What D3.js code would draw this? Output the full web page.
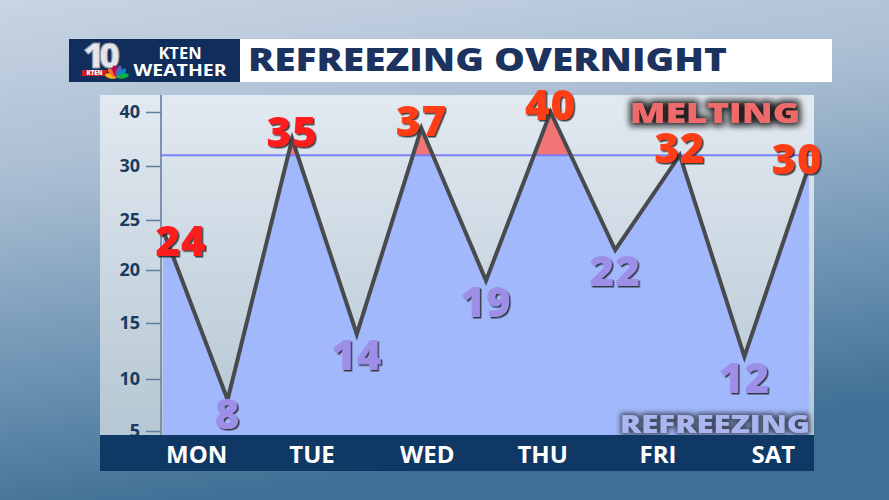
<!DOCTYPE html>
<html>
<head>
<meta charset="utf-8">
<script src="https://cdn.jsdelivr.net/npm/d3@7"></script>
<style>
  body { margin: 0; overflow: hidden; }
  svg { display: block; font-family: "Open Sans", "DejaVu Sans", sans-serif; }
</style>
</head>
<body>
<svg width="889" height="500"></svg>
<script>
var days = ["MON", "TUE", "WED", "THU", "FRI", "SAT"];
var temps = [24, 8, 35, 14, 37, 19, 40, 22, 32, 12, 30];
var readings = ["high", "low", "high", "low", "high", "low", "high", "low", "high", "low", "high"];
var yTicks = [5, 10, 15, 20, 25, 30, 40];
var freezing = 32;

var W = 889, H = 500;
var panel = {left: 100, right: 814, top: 95, bottom: 435};
var axisX = 161;

var svg = d3.select("svg");
var defs = svg.append("defs");

// background gradient
var bg = defs.append("linearGradient").attr("id", "bg")
    .attr("x1", 0).attr("y1", 0).attr("x2", 0.25).attr("y2", 1);
bg.append("stop").attr("offset", 0).attr("stop-color", "#c9d4e4");
bg.append("stop").attr("offset", 0.35).attr("stop-color", "#a9bdd2");
bg.append("stop").attr("offset", 0.7).attr("stop-color", "#6f95b4");
bg.append("stop").attr("offset", 1).attr("stop-color", "#3f6f95");

var panelGrad = defs.append("linearGradient").attr("id", "panelGrad")
    .attr("x1", 0).attr("y1", 0).attr("x2", 0).attr("y2", 1);
panelGrad.append("stop").attr("offset", 0).attr("stop-color", "#e2e9f1");
panelGrad.append("stop").attr("offset", 1).attr("stop-color", "#b5c7d3");

// text shadows and glows
var shadow = defs.append("filter").attr("id", "shadow")
    .attr("x", "-20%").attr("y", "-20%").attr("width", "140%").attr("height", "140%");
shadow.append("feDropShadow").attr("dx", 1.5).attr("dy", 1.5)
    .attr("stdDeviation", 0.6).attr("flood-color", "#222").attr("flood-opacity", 0.85);

function glowFilter(id, color, radius, blur) {
  var f = defs.append("filter").attr("id", id)
      .attr("x", "-10%").attr("y", "-50%").attr("width", "120%").attr("height", "200%");
  f.append("feMorphology").attr("in", "SourceAlpha").attr("operator", "dilate")
      .attr("radius", radius).attr("result", "thick");
  f.append("feGaussianBlur").attr("in", "thick").attr("stdDeviation", blur).attr("result", "blur");
  f.append("feFlood").attr("flood-color", color).attr("flood-opacity", 0.9);
  f.append("feComposite").attr("in2", "blur").attr("operator", "in").attr("result", "glow");
  var m = f.append("feMerge");
  m.append("feMergeNode").attr("in", "glow");
  m.append("feMergeNode").attr("in", "SourceGraphic");
}
glowFilter("glowDark", "#111", 3, 3);
glowFilter("glowGray", "#3a3f50", 2, 2.5);

svg.append("rect").attr("width", W).attr("height", H).attr("fill", "url(#bg)");

// ---- header ----
svg.append("rect").attr("x", 69).attr("y", 39).attr("width", 172).attr("height", 43).attr("fill", "#112d5b");
svg.append("rect").attr("x", 240).attr("y", 39).attr("width", 592).attr("height", 43).attr("fill", "#ffffff");

svg.append("text")
    .attr("x", 99).attr("y", 68)
    .attr("text-anchor", "middle")
    .attr("font-size", 36).attr("font-weight", 800)
    .attr("letter-spacing", -5)
    .attr("fill", "#e4e6ea").attr("stroke", "#8c96a6").attr("stroke-width", 1)
    .text("10");
svg.append("rect").attr("x", 82).attr("y", 70).attr("width", 25).attr("height", 6).attr("fill", "#c8202c");
svg.append("text")
    .attr("x", 94.5).attr("y", 75.3).attr("text-anchor", "middle")
    .attr("font-size", 6).attr("font-weight", 800).attr("fill", "#fff")
    .text("KTEN");

// peacock
var petals = ["#fcb711", "#f37021", "#cc004c", "#6460aa", "#0089d0", "#0db14b"];
var peacock = svg.append("g").attr("transform", "translate(117,77)");
petals.forEach(function(c, i) {
  var a = -80 + i * 32;
  peacock.append("ellipse")
    .attr("cx", 0).attr("cy", -6).attr("rx", 2.6).attr("ry", 6)
    .attr("fill", c)
    .attr("transform", "rotate(" + a + ")");
});

svg.append("text")
    .attr("x", 180).attr("y", 58.5).attr("text-anchor", "middle")
    .attr("font-size", 16.5).attr("font-weight", 700).attr("fill", "#fff")
    .text("KTEN");
svg.append("text")
    .attr("x", 180).attr("y", 76).attr("text-anchor", "middle")
    .attr("font-size", 16.5).attr("font-weight", 700).attr("fill", "#fff")
    .attr("textLength", 93).attr("lengthAdjust", "spacingAndGlyphs")
    .text("WEATHER");

svg.append("text")
    .attr("x", 248).attr("y", 71)
    .attr("font-size", 31).attr("font-weight", 800).attr("fill", "#1b335e")
    .attr("textLength", 479).attr("lengthAdjust", "spacingAndGlyphs")
    .text("REFREEZING OVERNIGHT");

// ---- chart panel ----
svg.append("rect")
    .attr("x", panel.left).attr("y", panel.top)
    .attr("width", panel.right - panel.left).attr("height", panel.bottom - panel.top)
    .attr("fill", "url(#panelGrad)");

var x = d3.scalePoint()
    .domain(d3.range(temps.length))
    .range([163, 809]);

// the graphic's axis is not evenly spaced, so map it piece by piece
var y = d3.scaleLinear()
    .domain(yTicks)
    .range([431, 379, 323, 270, 220, 166, 112]);

var dayScale = d3.scaleBand()
    .domain(days)
    .range([139, 831]);

defs.append("clipPath").attr("id", "clipAbove")
  .append("rect")
    .attr("x", panel.left).attr("y", panel.top)
    .attr("width", panel.right - panel.left).attr("height", y(freezing) - panel.top);
defs.append("clipPath").attr("id", "clipBelow")
  .append("rect")
    .attr("x", panel.left).attr("y", y(freezing))
    .attr("width", panel.right - panel.left).attr("height", panel.bottom - y(freezing));

var area = d3.area()
    .x(function(d, i) { return x(i); })
    .y0(panel.bottom)
    .y1(function(d) { return y(d); });

svg.append("path")
    .datum(temps)
    .attr("d", area)
    .attr("fill", "#a1b9fc")
    .attr("clip-path", "url(#clipBelow)");
svg.append("path")
    .datum(temps)
    .attr("d", area)
    .attr("fill", "#f27474")
    .attr("clip-path", "url(#clipAbove)");

// y axis
svg.append("line")
    .attr("x1", axisX).attr("x2", axisX)
    .attr("y1", panel.top).attr("y2", panel.bottom)
    .attr("stroke", "#7d93ad").attr("stroke-width", 2);

var yAxis = svg.append("g")
    .attr("transform", "translate(" + axisX + ",0)")
    .call(d3.axisLeft(y).tickValues(yTicks).tickSize(15).tickPadding(6));
yAxis.select(".domain").remove();
yAxis.selectAll(".tick line").attr("stroke", "#5f7d9c").attr("stroke-width", 1.5);
yAxis.selectAll(".tick text")
    .attr("font-family", "'Open Sans', sans-serif")
    .attr("font-size", 18).attr("font-weight", 700)
    .attr("fill", "#183a5e");

// freezing line
svg.append("line")
    .attr("x1", axisX).attr("x2", panel.right)
    .attr("y1", y(freezing)).attr("y2", y(freezing))
    .attr("stroke", "#6a72ff").attr("stroke-opacity", 0.85).attr("stroke-width", 2);

// temperature line
svg.append("path")
    .datum(temps)
    .attr("d", d3.line()
      .x(function(d, i) { return x(i); })
      .y(function(d) { return y(d); }))
    .attr("fill", "none")
    .attr("stroke", "#484a4e")
    .attr("stroke-width", 4)
    .attr("stroke-linejoin", "miter")
    .attr("stroke-miterlimit", 10);

// MELTING / REFREEZING tags
svg.append("text")
    .attr("x", 630).attr("y", 123)
    .attr("font-size", 29).attr("font-weight", 800)
    .attr("fill", "#ef6b6b").attr("filter", "url(#glowDark)")
    .attr("textLength", 170).attr("lengthAdjust", "spacingAndGlyphs")
    .text("MELTING");
svg.append("text")
    .attr("x", 620).attr("y", 433)
    .attr("font-size", 24).attr("font-weight", 800)
    .attr("fill", "#aab6f0").attr("filter", "url(#glowGray)")
    .attr("textLength", 190).attr("lengthAdjust", "spacingAndGlyphs")
    .text("REFREEZING");

// value labels
var last = temps.length - 1;
svg.append("g")
  .selectAll("text")
  .data(temps)
  .enter()
  .append("text")
    .attr("x", function(d, i) {
      if (i == 0) return x(i) + 18;
      if (i == last) return x(i) - 12;
      return x(i);
    })
    .attr("y", function(d, i) {
      if (i == 0) return y(d) + 26;
      if (readings[i] == "high") return y(d) + 8;
      return Math.min(y(d) + 36, 429);
    })
    .attr("text-anchor", "middle")
    .attr("font-size", 42).attr("font-weight", 800)
    .attr("letter-spacing", 1)
    .attr("fill", function(d, i) {
      if (readings[i] == "low") return "#9d8fe8";
      return i < 3 ? "#ff1a1f" : "#ff3e12";
    })
    .attr("filter", "url(#shadow)")
    .text(function(d) { return d; });

// ---- day bar ----
svg.append("rect")
    .attr("x", panel.left).attr("y", panel.bottom)
    .attr("width", panel.right - panel.left).attr("height", 36)
    .attr("fill", "#0f3864");

svg.append("g")
  .selectAll("text")
  .data(days)
  .enter()
  .append("text")
    .attr("x", function(d) { return dayScale(d) + dayScale.bandwidth() / 2; })
    .attr("y", 463)
    .attr("text-anchor", "middle")
    .attr("font-size", 24).attr("font-weight", 700)
    .attr("fill", "#ffffff")
    .text(function(d) { return d; });
</script>
</body>
</html>
